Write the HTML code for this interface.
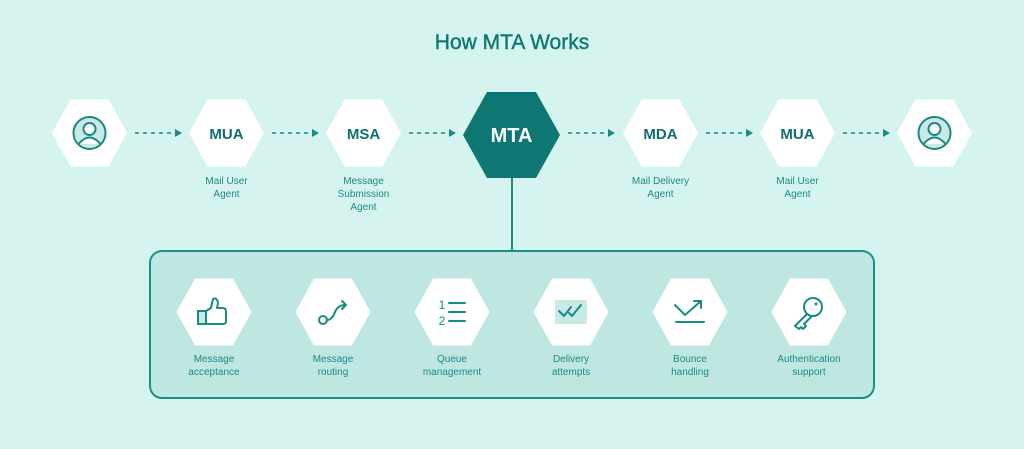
<!DOCTYPE html>
<html><head><style>
body{margin:0;background:#d6f4ef;}
svg{display:block;font-family:"Liberation Sans",sans-serif;}
.l{font-size:10px;fill:#1a8a84;text-anchor:middle;}
.h{font-size:15px;font-weight:bold;fill:#0e6f6b;text-anchor:middle;}
.i{fill:none;stroke:#1a8a84;stroke-width:2;stroke-linecap:round;stroke-linejoin:round;}
</style></head><body>
<svg width="1024" height="449" viewBox="0 0 1024 449">
<rect width="1024" height="449" fill="#d6f4ef"/>
<text x="512" y="49" font-size="21" fill="#0e7773" text-anchor="middle" stroke="#0e7773" stroke-width="0.4">How MTA Works</text>
<defs>
<polygon id="hx" points="-37.5,0 -19,-33.5 19,-33.5 37.5,0 19,33.5 -19,33.5" fill="#fff"/>
<g id="ar"><line x1="0" y1="0" x2="40" y2="0" stroke="#1a8a84" stroke-width="1.5" stroke-dasharray="4,4"/><polygon points="40,-4 47,0 40,4" fill="#1a8a84"/></g>
<g id="person"><circle r="16" fill="#c9e9e5" stroke="#1a8a84" stroke-width="2"/><circle cy="-4" r="6" fill="#fff" stroke="#1a8a84" stroke-width="2"/><path d="M-11,11 Q0,-2 11,11" fill="#fff" stroke="#1a8a84" stroke-width="2"/></g>
</defs>
<line x1="512" y1="170" x2="512" y2="251" stroke="#1a8a84" stroke-width="2"/>
<use href="#hx" x="89.5" y="133"/><use href="#person" x="89.5" y="133"/>
<use href="#ar" x="135" y="133"/>
<use href="#hx" x="226.5" y="133"/><text class="h" x="226.5" y="139">MUA</text>
<use href="#ar" x="272" y="133"/>
<use href="#hx" x="363.5" y="133"/><text class="h" x="363.5" y="139">MSA</text>
<use href="#ar" x="409" y="133"/>
<polygon points="463,135 487,92 536,92 560,135 536,178 487,178" fill="#0e7773"/>
<text x="511.5" y="142" font-size="20" font-weight="bold" fill="#fff" text-anchor="middle">MTA</text>
<use href="#ar" x="568" y="133"/>
<use href="#hx" x="660.5" y="133"/><text class="h" x="660.5" y="139">MDA</text>
<use href="#ar" x="706" y="133"/>
<use href="#hx" x="797.5" y="133"/><text class="h" x="797.5" y="139">MUA</text>
<use href="#ar" x="843" y="133"/>
<use href="#hx" x="934.5" y="133"/><use href="#person" x="934.5" y="133"/>
<text class="l" x="226.5" y="184">Mail User</text><text class="l" x="226.5" y="197">Agent</text>
<text class="l" x="363.5" y="184">Message</text><text class="l" x="363.5" y="197">Submission</text><text class="l" x="363.5" y="210">Agent</text>
<text class="l" x="660.5" y="184">Mail Delivery</text><text class="l" x="660.5" y="197">Agent</text>
<text class="l" x="797.5" y="184">Mail User</text><text class="l" x="797.5" y="197">Agent</text>
<rect x="150" y="251" width="724" height="147" rx="12" fill="#bfe7e2" stroke="#1a9089" stroke-width="2"/>
<g transform="translate(214,312)"><use href="#hx"/><rect x="-16" y="-1" width="8" height="13" fill="#c9e9e5" stroke="#1a8a84" stroke-width="2"/><path class="i" d="M-8,-1 L-3,-4 L-1,-13 Q3,-15 4,-9 L3,-4 L9,-4 Q12,-4 12,0 L12,9 Q12,12 9,12 L-8,12"/></g>
<g transform="translate(333,312)"><use href="#hx"/><circle cx="-10" cy="8" r="4" class="i"/><path class="i" d="M-6,8 Q-1,8 2,0 Q5,-7 12,-7 M9,-11 L13,-7 L9,-3"/></g>
<g transform="translate(452,312)"><use href="#hx"/><text x="-10" y="-3" font-size="12" fill="#1a8a84" text-anchor="middle">1</text><text x="-10" y="13" font-size="12" fill="#1a8a84" text-anchor="middle">2</text><path class="i" d="M-3,-9 H13 M-3,0 H13 M-3,9 H13"/></g>
<g transform="translate(571,312)"><use href="#hx"/><rect x="-16" y="-12" width="32" height="24" rx="1" fill="#c9e9e5"/><path class="i" d="M-12,-1 L-7,4 L0,-5 M-2,1 L1,4 L10,-7"/></g>
<g transform="translate(690,312)"><use href="#hx"/><path class="i" d="M-15,-7 L-5,3 L11,-11 M4,-11 L11,-11 L11,-4 M-14,10 H14"/></g>
<g transform="translate(809,312)"><use href="#hx"/><circle cx="4" cy="-5" r="9" class="i"/><circle cx="7" cy="-8" r="1.5" fill="#1a8a84"/><path class="i" d="M-2,2 L-14,14 L-10,17 L-8,15 L-6,17 L-3,14 L-5,12 L3,4"/></g>
<text class="l" x="214" y="362">Message</text><text class="l" x="214" y="375">acceptance</text>
<text class="l" x="333" y="362">Message</text><text class="l" x="333" y="375">routing</text>
<text class="l" x="452" y="362">Queue</text><text class="l" x="452" y="375">management</text>
<text class="l" x="571" y="362">Delivery</text><text class="l" x="571" y="375">attempts</text>
<text class="l" x="690" y="362">Bounce</text><text class="l" x="690" y="375">handling</text>
<text class="l" x="809" y="362">Authentication</text><text class="l" x="809" y="375">support</text>
</svg>
</body></html>
